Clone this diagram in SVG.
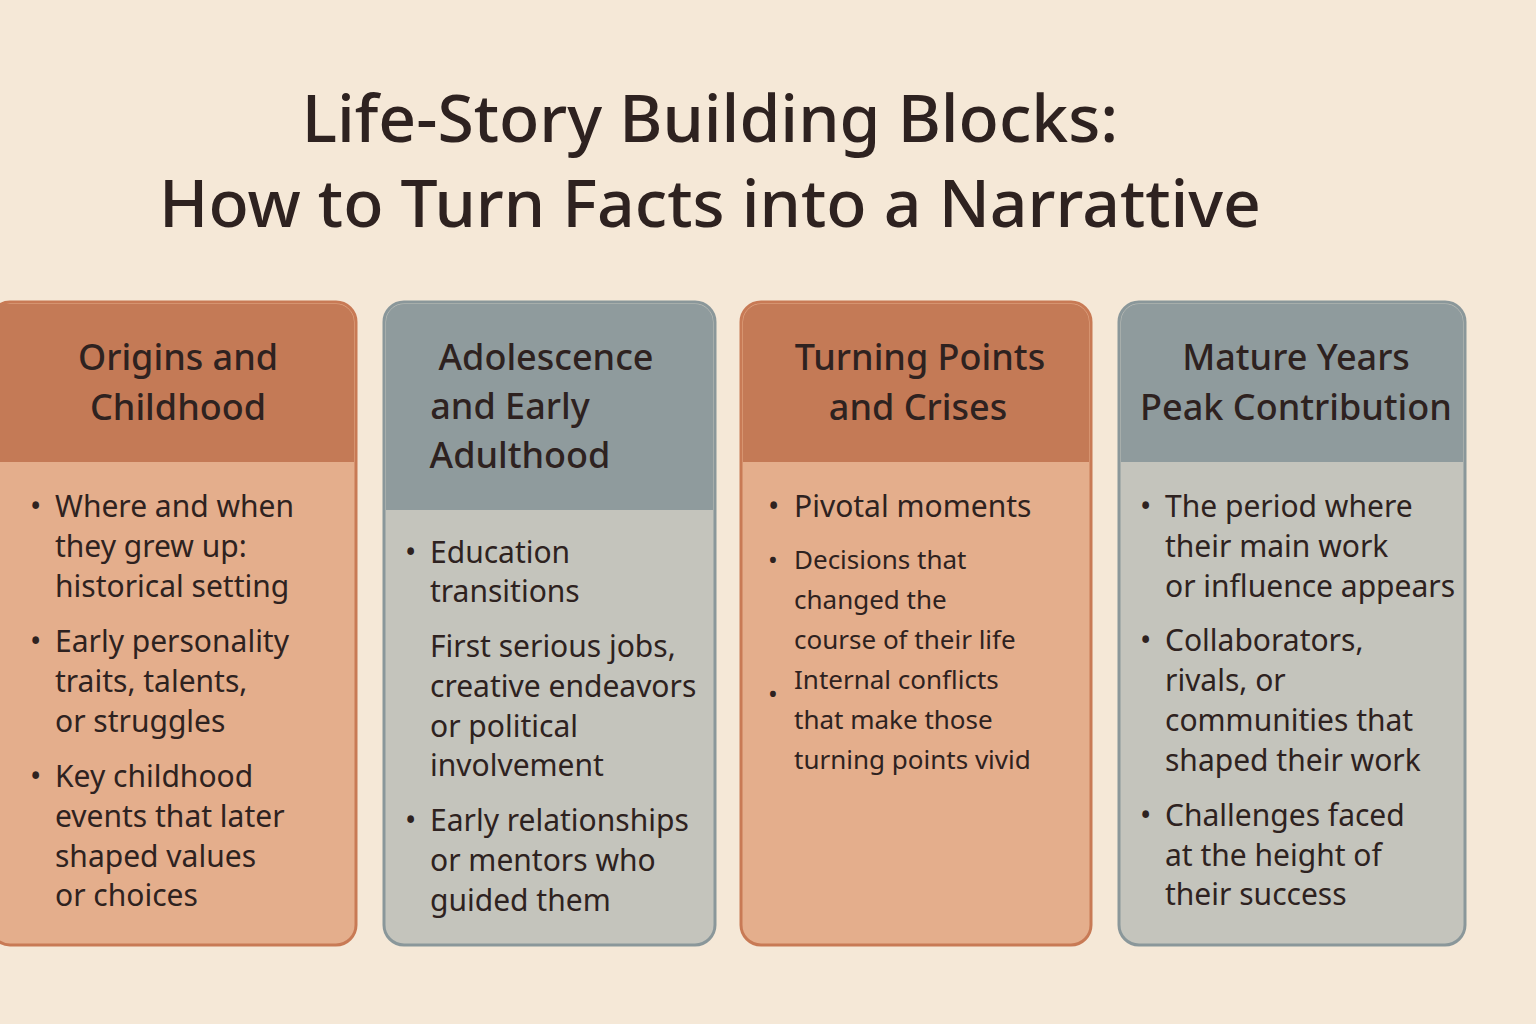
<svg xmlns="http://www.w3.org/2000/svg" width="1536" height="1024" viewBox="0 0 1536 1024">
<style>
text{font-family:"Noto Sans","Open Sans",sans-serif;fill:#2e2220}
.t{font-size:66px;font-weight:500}
.h{font-size:36px;font-weight:500;text-anchor:middle}
.b{font-size:30px}
.s{font-size:26px}
.o{fill:#e4ae8c;stroke:#c87a55;stroke-width:3}
.oh{fill:#c47a56}
.g{fill:#c4c4bc;stroke:#8a979a;stroke-width:3}
.gh{fill:#8f9b9d}
</style>
<rect width="1536" height="1024" fill="#f5e8d7"/>
<g id="title">
<text class="t" x="710" y="142" text-anchor="middle">Life-Story Building Blocks:</text>
<text class="t" x="710" y="227" text-anchor="middle">How to Turn Facts into a Narrattive</text>
</g>
<g id="card1">
<rect class="o" x="-10" y="302" width="366" height="643" rx="20"/>
<path class="oh" d="M-8,304 H336 a18,18 0 0 1 18,18 V462 H-8Z"/>
<text class="h" x="178" y="370">Origins and</text>
<text class="h" x="178" y="420">Childhood</text>
<g class="b">
<text x="30" y="517">•</text><text x="55" y="517">Where and when</text><text x="55" y="557">they grew up:</text><text x="55" y="597">historical setting</text>
<text x="30" y="652">•</text><text x="55" y="652">Early personality</text><text x="55" y="692">traits, talents,</text><text x="55" y="732">or struggles</text>
<text x="30" y="787">•</text><text x="55" y="787">Key childhood</text><text x="55" y="827">events that later</text><text x="55" y="867">shaped values</text><text x="55" y="906">or choices</text>
</g>
</g>
<g id="card2">
<rect class="g" x="384" y="302" width="331" height="643" rx="20"/>
<path class="gh" d="M386,322 a18,18 0 0 1 18,-18 H695 a18,18 0 0 1 18,18 V510 H386Z"/>
<text class="h" x="546" y="370">Adolescence</text>
<text class="h" x="510" y="419">and Early</text>
<text class="h" x="520" y="468">Adulthood</text>
<g class="b">
<text x="405" y="563">•</text><text x="430" y="563">Education</text><text x="430" y="602">transitions</text>
<text x="430" y="657">First serious jobs,</text><text x="430" y="697">creative endeavors</text><text x="430" y="737">or political</text><text x="430" y="776">involvement</text>
<text x="405" y="831">•</text><text x="430" y="831">Early relationships</text><text x="430" y="871">or mentors who</text><text x="430" y="911">guided them</text>
</g>
</g>
<g id="card3">
<rect class="o" x="741" y="302" width="350" height="643" rx="20"/>
<path class="oh" d="M743,322 a18,18 0 0 1 18,-18 H1071 a18,18 0 0 1 18,18 V462 H743Z"/>
<text class="h" x="920" y="370">Turning Points</text>
<text class="h" x="918" y="420">and Crises</text>
<text class="b" x="768" y="517">•</text><text class="b" x="794" y="517">Pivotal moments</text>
<g class="s">
<text x="768" y="569">•</text><text x="794" y="569">Decisions that</text><text x="794" y="609">changed the</text><text x="794" y="649">course of their life</text>
<text x="768" y="703">•</text><text x="794" y="689">Internal conflicts</text><text x="794" y="729">that make those</text><text x="794" y="769">turning points vivid</text>
</g>
</g>
<g id="card4">
<rect class="g" x="1119" y="302" width="346" height="643" rx="20"/>
<path class="gh" d="M1121,322 a18,18 0 0 1 18,-18 H1445 a18,18 0 0 1 18,18 V462 H1121Z"/>
<text class="h" x="1296" y="370">Mature Years</text>
<text class="h" x="1296" y="420">Peak Contribution</text>
<g class="b">
<text x="1140" y="517">•</text><text x="1165" y="517">The period where</text><text x="1165" y="557">their main work</text><text x="1165" y="597">or influence appears</text>
<text x="1140" y="651">•</text><text x="1165" y="651">Collaborators,</text><text x="1165" y="691">rivals, or</text><text x="1165" y="731">communities that</text><text x="1165" y="771">shaped their work</text>
<text x="1140" y="826">•</text><text x="1165" y="826">Challenges faced</text><text x="1165" y="866">at the height of</text><text x="1165" y="905">their success</text>
</g>
</g>
<g id="connectors"></g>
</svg>
